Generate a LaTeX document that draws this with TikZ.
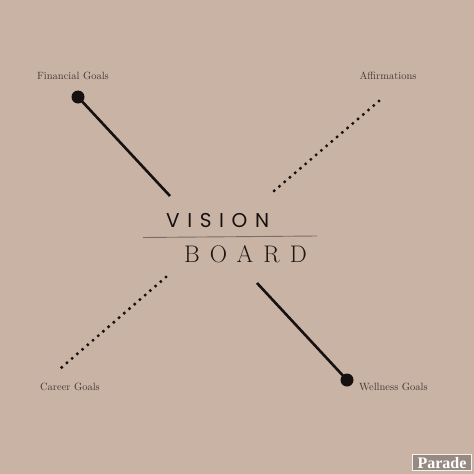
\documentclass[tikz,border=0pt]{standalone}
\usepackage{fontspec}
\newfontfamily\visionfont[LetterSpace=38]{Poppins}
\newfontfamily\boardfont[LetterSpace=42]{Latin Modern Roman}
\newfontfamily\paradefont{Liberation Serif}
\definecolor{paper}{RGB}{201,179,165}
\definecolor{ink}{RGB}{22,16,16}
\definecolor{labelink}{RGB}{70,56,52}
\definecolor{rulegray}{RGB}{125,108,100}
\definecolor{logogray}{RGB}{150,138,131}
\tikzset{
  goal/.style={font=\fontsize{10.5}{12}\selectfont, text=labelink, inner sep=0pt, anchor=base},
  pin/.style={circle, fill=ink, minimum size=13pt, inner sep=0pt},
  stroke/.style={ink, line width=2.6pt},
  dots/.style={ink, line width=3.4pt, line cap=round, dash pattern=on 0pt off 6.9pt},
}
\begin{document}
\begin{tikzpicture}[x=1pt, y=-1pt]
  % background
  \fill[paper] (0,0) rectangle (474,474);
  \useasboundingbox (0,0) rectangle (474,474);

  % labels
  \node[goal] (financial) at (73,79) {Financial Goals};
  \node[goal] (affirm) at (388,79) {Affirmations};
  \node[goal] (career) at (70,390) {Career Goals};
  \node[goal, anchor=base west] (wellness) at (359,390) {Wellness Goals};

  % pins
  \node[pin] (pinF) at (78,97) {};
  \node[pin] (pinW) at (347,380) {};
  \coordinate (endF) at (170,196);
  \coordinate (endW) at (257,283);

  % dotted ends
  \coordinate (affA) at (379,101);
  \coordinate (affB) at (274,191);
  \coordinate (carA) at (166,277);
  \coordinate (carB) at (61,368);

  % lines
  \draw[stroke] (pinF.center) -- (endF);
  \draw[stroke] (endW) -- (pinW.center);
  \draw[dots] (affA) -- (affB);
  \draw[dots] (carA) -- (carB);

  % title
  \node[font=\visionfont\fontsize{20}{24}\selectfont, text=ink, inner sep=0pt, anchor=base west] (vision) at (166,227) {VISION};
  \coordinate (ruleL) at (143,237.5);
  \coordinate (ruleR) at (317,236);
  \draw[rulegray, line width=0.9pt] (ruleL) -- (ruleR);
  \node[font=\boardfont\fontsize{24}{28}\selectfont, text=ink!85!labelink, inner sep=0pt, anchor=base west] (board) at (184,262) {BOARD};

  % logo
  \node[draw=white!80!paper, line width=1.2pt, fill=logogray, text=white, font=\paradefont\bfseries\fontsize{16}{18}\selectfont,
        inner xsep=5pt, inner ysep=2.5pt, anchor=north west] (parade) at (412,454) {Parade};
\end{tikzpicture}
\end{document}
